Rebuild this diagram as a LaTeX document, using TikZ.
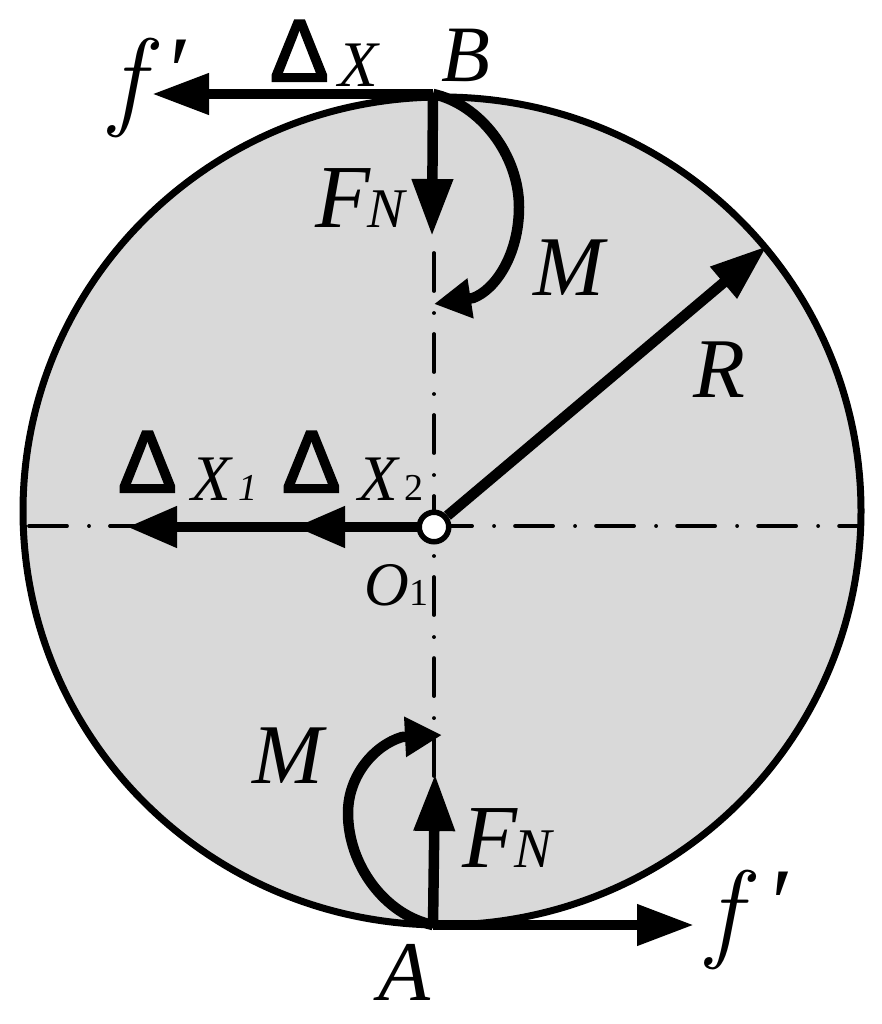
\documentclass[tikz,border=0pt]{standalone}
\usepackage{fontspec}
\setmainfont{Liberation Serif}
\newfontfamily\deltafont{Liberation Sans}[FakeBold=2.4]
\newfontfamily\lmfont{Latin Modern Roman}
\usetikzlibrary{arrows.meta}
\newcommand{\fsz}[1]{\fontsize{#1}{#1}\selectfont}
\tikzset{
  x=1pt,y=-1pt,
  txt/.style={anchor=base west,inner sep=0pt,outer sep=0pt},
  force/.style={line width=10.5pt,-{Triangle[length=57pt,width=39pt]}},
  shortforce/.style={line width=10.5pt,-{Triangle[length=50pt,width=39pt]}},
  moment/.style={line width=10.5pt,-{Triangle[length=37pt,width=38pt]}},
  axis/.style={line width=3.8pt,line cap=round,dash pattern=on 38pt off 22pt on 0.01pt off 21pt},
  lab/.style={txt,font=\fsz{85}\itshape},
  main/.style={txt,font=\fsz{90}\itshape},
  sub/.style={txt,font=\fsz{56}\itshape},
  exs/.style={txt,font=\fsz{65}\itshape},
  digit/.style={txt,font=\fsz{38}},
  delta/.style={txt,font=\fsz{88}\deltafont},
  eff/.style={txt,font=\fsz{110}\lmfont\itshape},
  primemark/.style={txt,font=\fsz{100}\itshape},
}
\begin{document}
\begin{tikzpicture}
\useasboundingbox (0,0) rectangle (882,1024);
\coordinate (B) at (433,94);
\coordinate (A) at (433,925);
\coordinate (c) at (442,511);
\coordinate (ftop) at (152,94);
\coordinate (fbot) at (694,925);
\coordinate (nbot) at (435,774);
\coordinate (ntop) at (432,236);
\coordinate (rtip) at (767,246);
\coordinate (d1) at (127,527);
\coordinate (d2) at (295,527);
\coordinate (d2b) at (340,527);
\coordinate (h1) at (22,526);
\coordinate (h2) at (860,526);
\coordinate (v1) at (434,253);
\coordinate (v2) at (434,776);
\coordinate (mt1) at (473,298);
\coordinate (mt2) at (434,304);
\coordinate (mb1) at (402,737);
\coordinate (mb2) at (442,735);

\fill[fill=black!15] (c) ellipse [x radius=419pt,y radius=414pt];
\draw[axis,dash phase=74pt] (h1) -- (h2);
\draw[axis] (v1) -- (v2);
\draw[line width=7pt] (c) ellipse [x radius=419pt,y radius=414pt];

\node[circle,draw,fill=white,line width=5.5pt,minimum size=29.5pt,inner sep=0pt] (O) at (434,527) {};

\draw[force] (O) -- (rtip);
\draw[shortforce] (O) -- (d2);
\draw[shortforce] (d2b) -- (d1);
\draw[force] (B) -- (ftop);
\draw[force] (B) -- (ntop);
\draw[force] (A) -- (fbot);
\draw[force] (A) -- (nbot);
\draw[moment] (B) .. controls (480,104) and (519,155) .. (519,207)
  .. controls (519,255) and (495,290) .. (mt1) -- (mt2);
\draw[moment] (A) .. controls (385,915) and (348,865) .. (348,813)
  .. controls (348,775) and (375,745) .. (mb1) -- (mb2);

\node[eff] (lf1) at (110,116) {f};
\node[primemark] (lp1) at (163,106) {′};
\node[eff] (lf2) at (707,947) {f};
\node[primemark] (lp2) at (765,937) {′};
\node[delta] (ldx) at (270,81) {Δ};
\node[exs] (lx) at (338,87) {X};
\node[lab,font=\fsz{80}\itshape] (lB) at (441,82) {B};
\node[main] (lF1) at (315,228) {F};
\node[sub] (lN1) at (367,228) {N};
\node[lab] (lM1) at (533,295) {M};
\node[lab] (lR) at (693,397) {R};
\node[delta] (ldx1) at (118,492) {Δ};
\node[exs] (lx1) at (191,500) {X};
\node[digit,font=\fsz{38}\itshape] (l1) at (238,500) {1};
\node[delta] (ldx2) at (282,492) {Δ};
\node[exs] (lx2) at (358,500) {X};
\node[digit] (l2) at (404,500) {2};
\node[txt,font=\fsz{62}\itshape] (lO) at (364,605) {O};
\node[digit] (l3) at (409,605) {1};
\node[lab] (lM2) at (252,783) {M};
\node[main] (lF2) at (462,867) {F};
\node[sub] (lN2) at (514,867) {N};
\node[lab] (lA) at (378,1000) {A};
\end{tikzpicture}
\end{document}
